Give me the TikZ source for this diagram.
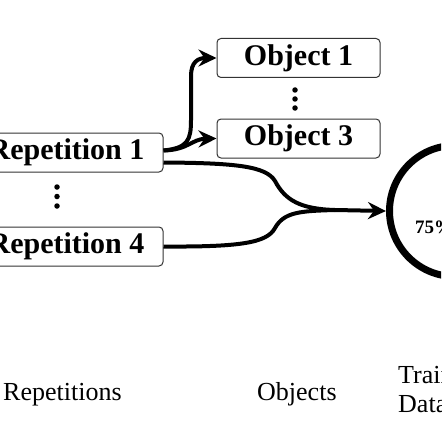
\documentclass[tikz,border=0pt]{standalone}
\usepackage{fontspec}
\setmainfont{Liberation Serif}
\usetikzlibrary{arrows.meta}
\begin{document}
\begin{tikzpicture}[x=1pt,y=-1pt,
 box/.style={draw=black!80, line width=1pt, rounded corners=4pt, fill=white, minimum height=39pt, inner sep=0pt, font=\fontsize{30}{30}\selectfont\bfseries},
 conn/.style={line width=4pt, -{Stealth[length=18pt,width=17pt,inset=6pt]}},
 line/.style={line width=4pt},
 lbl/.style={font=\fontsize{26}{30}\selectfont, inner sep=0pt},
 dot/.style={circle, fill=black, inner sep=0pt, minimum size=5.5pt}]
\useasboundingbox (0,0) rectangle (441,441);
\clip (0,0) rectangle (441,441);
% boxes
\node[box, minimum width=163pt] (obj1) at (298.5,58) {Object 1};
\node[box, minimum width=163pt] (obj3) at (298.5,138.5) {Object 3};
\node[box, minimum width=193pt] (rep1) at (66.5,152.5) {Repetition 1};
\node[box, minimum width=193pt] (rep4) at (66.5,246.5) {Repetition 4};
% dots
\node[dot] (d1) at (57,187) {};
\node[dot] (d2) at (57,196.5) {};
\node[dot] (d3) at (57,206) {};
\node[dot] (e1) at (295,90) {};
\node[dot] (e2) at (295,99) {};
\node[dot] (e3) at (295,108) {};
% training circle
\node[circle, draw, line width=7pt, minimum size=131pt, inner sep=0pt] (train) at (455,211) {};
\node[anchor=base west, inner sep=0pt, font=\fontsize{19}{19}\selectfont\bfseries] (pct) at (415,233) {75\%};
% connectors
\coordinate (merge) at (335,210);
\draw[conn] ([yshift=2pt]rep1.east) .. controls (188,148) and (191,140) .. (191,120) -- (191,76) .. controls (191,62) and (198,58) .. (obj1.west);
\draw[conn] ([yshift=2pt]rep1.east) .. controls (188,150) and (192,139) .. (obj3.west);
\draw[line] ([yshift=-10pt]rep1.east) .. controls (235,163) and (266,166) .. (275,181) .. controls (285,200) and (300,209) .. (merge);
\draw[line] (rep4.east) .. controls (240,247) and (267,243) .. (275,228) .. controls (284,212) and (300,211) .. (merge);
\draw[conn] (merge) -- (train.west);
% labels
\node[lbl, anchor=base west] (lrep) at (3,400) {Repetitions};
\node[lbl, anchor=base west] (lobj) at (257,400) {Objects};
\node[lbl, anchor=base west] (ltr) at (398,383) {Training};
\node[lbl, anchor=base west] (lda) at (398,412) {Data};
\end{tikzpicture}
\end{document}
